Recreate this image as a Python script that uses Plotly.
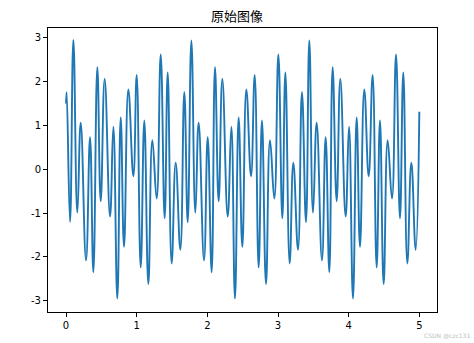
import plotly.graph_objects as go

# Extrema of the signal (time, amplitude)
t_points = [0.000, 0.009, 0.057, 0.104, 0.160, 0.208, 0.283, 0.340, 0.387, 0.443,
            0.491, 0.547, 0.623, 0.670, 0.726, 0.774, 0.821, 0.882, 0.953, 1.000,
            1.057, 1.108, 1.165, 1.222, 1.283, 1.340, 1.396, 1.439, 1.495, 1.552,
            1.618, 1.674, 1.722, 1.774, 1.830, 1.877, 1.953, 2.005, 2.061, 2.108,
            2.160, 2.212, 2.288, 2.340, 2.391, 2.443, 2.495, 2.552, 2.618, 2.670,
            2.726, 2.773, 2.830, 2.887, 2.948, 3.005, 3.061, 3.104, 3.165, 3.217,
            3.283, 3.339, 3.396, 3.443, 3.495, 3.547, 3.622, 3.674, 3.726, 3.773,
            3.830, 3.882, 3.957, 4.005, 4.061, 4.113, 4.160, 4.221, 4.283, 4.339,
            4.396, 4.443, 4.495, 4.552, 4.613, 4.670, 4.726, 4.773, 4.830, 4.887,
            4.948, 5.000]
y_points = [1.50, 1.76, -1.20, 2.95, -0.99, 1.06, -2.08, 0.73, -2.35, 2.33,
            -0.73, 2.06, -1.08, 0.97, -2.95, 1.18, -1.77, 1.82, -0.16, 2.15,
            -2.24, 1.11, -2.62, 0.66, -0.67, 2.62, -1.12, 2.21, -2.15, 0.15,
            -1.84, 1.76, -1.21, 2.94, -0.99, 1.06, -2.08, 0.73, -2.35, 2.33,
            -0.73, 2.06, -1.08, 0.97, -2.95, 1.18, -1.77, 1.82, -0.16, 2.15,
            -2.24, 1.11, -2.62, 0.66, -0.67, 2.62, -1.12, 2.21, -2.15, 0.15,
            -1.84, 1.76, -1.21, 2.94, -0.99, 1.06, -2.08, 0.73, -2.35, 2.33,
            -0.73, 2.06, -1.08, 0.97, -2.95, 1.18, -1.77, 1.82, -0.16, 2.15,
            -2.24, 1.11, -2.62, 0.66, -0.67, 2.62, -1.12, 2.21, -2.15, 0.15,
            -1.84, 1.31]

x_ticks = [0, 1, 2, 3, 4, 5]
y_ticks = [-3, -2, -1, 0, 1, 2, 3]
title_text = "原始图像"
watermark = "CSDN @czc131"

fig = go.Figure()
fig.add_trace(go.Scatter(
    x=t_points, y=y_points, mode="lines",
    line=dict(color="#1f77b4", width=1.9, shape="spline", smoothing=1.3),
    showlegend=False, hoverinfo="skip"))

axis_common = dict(
    showgrid=False, zeroline=False, showline=True, linecolor="black",
    linewidth=1, mirror=True, ticks="outside", ticklen=4, tickwidth=1,
    tickcolor="black", tickfont=dict(family="DejaVu Sans, sans-serif", size=10, color="black"))

fig.update_layout(
    width=474, height=343,
    margin=dict(l=48, r=37, t=28, b=26),
    paper_bgcolor="white", plot_bgcolor="white",
    title=dict(text=title_text, x=0.5, xanchor="center", y=1 - 16 / 343, yanchor="middle",
               font=dict(family="Noto Sans CJK SC, sans-serif", size=13, color="black")),
    xaxis=dict(range=[-0.255, 5.25], tickvals=x_ticks, ticktext=[str(v) for v in x_ticks], **axis_common),
    yaxis=dict(range=[-3.258, 3.222], tickvals=y_ticks, ticktext=[str(v) for v in y_ticks], **axis_common),
)
fig.add_annotation(text=watermark, xref="paper", yref="paper", x=1.09, y=-0.065,
                   xanchor="right", yanchor="top", showarrow=False,
                   font=dict(family="DejaVu Sans, sans-serif", size=6, color="#c0c0c0"))

fig.write_html("out.html")
